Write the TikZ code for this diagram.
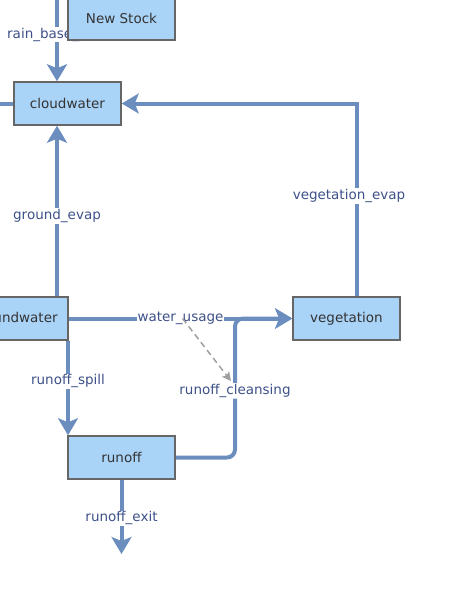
\documentclass[tikz,border=0pt]{standalone}
\usepackage{fontspec}
\setmainfont{DejaVu Sans}
\usetikzlibrary{arrows.meta}
\usetikzlibrary{positioning}
\definecolor{flowblue}{HTML}{6C8EBF}
\definecolor{stockfill}{HTML}{A9D3F7}
\definecolor{labelblue}{HTML}{3E5189}

\begin{document}
\begin{tikzpicture}[x=1pt, y=-1pt,
    stock/.style = {draw=black!60, line width=1.5pt, fill=stockfill, minimum width=107pt, minimum height=43pt, text=black!80, font=\fontsize{13.5}{15}\selectfont},
    flow/.style = {draw=flowblue, line width=4pt, -{Stealth[length=17pt, width=20pt, inset=4pt]}},
    lbl/.style = {fill=white, text=labelblue, inner sep=1pt, font=\fontsize{13.5}{15}\selectfont}]
    \useasboundingbox (0,0) rectangle (469,600);

    \node[stock] (cloudwater) at (67.5,103.5) {cloudwater};
    \node[stock] (groundwater) at (14.5,318.5) {groundwater};
    \node[stock] (vegetation) at (346.5,318.5) {vegetation};
    \node[stock] (runoff) at (121.5,457.5) {runoff};

    \coordinate (rainsrc) at (57,-5);
    \coordinate (evapx) at (57,0);
    \coordinate (spillx) at (68,0);
    \coordinate (bendx) at (235,0);
    \coordinate (cloudsink) at (-5,103.5);
    \coordinate (exitsink) at (121.5,554);

    \draw[flow] (rainsrc) -- node[lbl, pos=0.46] {rain\_base\_flow} (rainsrc |- cloudwater.north);
    \node[stock] (newstock) at (121.5,18.5) {New Stock};

    \draw[flow, -] (cloudwater.west) -- (cloudsink);
    \draw[flow] (groundwater.north -| evapx) -- node[lbl, pos=0.47] {ground\_evap} (cloudwater.south -| evapx);
    \draw[flow] ([xshift=10.5pt]vegetation.north) |- node[lbl, pos=0.26, xshift=-8pt] {vegetation\_evap} (cloudwater.east);
    \draw[flow] (groundwater.east) -- node[lbl] (usagelbl) {water\_usage} (vegetation.west);
    \draw[flow] (groundwater.south -| spillx) -- node[lbl, pos=0.43] {runoff\_spill} (runoff.north -| spillx);
    \draw[flow, rounded corners=8pt] (runoff.east) -| node[lbl, pos=0.74] (cleanlbl) {runoff\_cleansing} (bendx |- vegetation.west) -- (vegetation.west);
    \draw[flow] (runoff.south) -- node[lbl, pos=0.52] {runoff\_exit} (exitsink);

    \draw[gray!75, dash pattern=on 6pt off 4pt, line width=1.5pt, -{Stealth[length=9pt, width=9pt, inset=2pt]}] ([xshift=2pt]usagelbl.center) -- ([xshift=-4pt]cleanlbl.north);
\end{tikzpicture}
\end{document}
